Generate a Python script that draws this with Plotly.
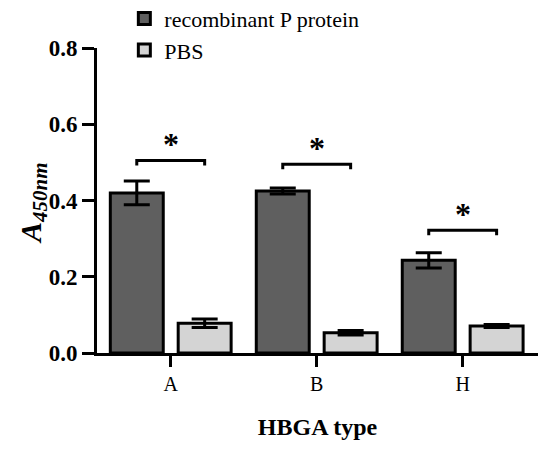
import plotly.graph_objects as go

categories = ["A", "B", "H"]
protein_vals = [0.42, 0.425, 0.243]
protein_err = [0.031, 0.008, 0.020]
pbs_vals = [0.078, 0.053, 0.071]
pbs_err = [0.011, 0.006, 0.004]
sig_heights = [0.505, 0.495, 0.322]
series_names = ["recombinant P protein", "PBS"]
y_ticks = [0.0, 0.2, 0.4, 0.6, 0.8]

FONT = "Liberation Serif"
fig = go.Figure()
fig.add_trace(go.Bar(
    x=categories, y=protein_vals, name=series_names[0],
    marker=dict(color="#5f5f5f", line=dict(color="black", width=3)),
    error_y=dict(type="data", array=protein_err, color="black", thickness=3, width=13),
))
fig.add_trace(go.Bar(
    x=categories, y=pbs_vals, name=series_names[1],
    marker=dict(color="#d4d4d4", line=dict(color="black", width=3)),
    error_y=dict(type="data", array=pbs_err, color="black", thickness=3, width=13),
))

bargap = 0.07
slot = (1 - bargap) / 2
off = slot / 2
drop = 0.013
for i, h in enumerate(sig_heights):
    x0, x1 = i - off, i + off
    fig.add_shape(type="path",
                  path=f"M {x0},{h - drop} L {x0},{h} L {x1},{h} L {x1},{h - drop}",
                  xref="x", yref="y", line=dict(color="black", width=3))
    fig.add_annotation(x=i, y=h, xref="x", yref="y", text="<b>*</b>",
                       showarrow=False, yanchor="bottom", yshift=-4,
                       font=dict(family=FONT, size=32, color="black"))

# y-axis title
fig.add_annotation(x=-0.145, y=0.492, xref="paper", yref="paper",
                   text="<b><i>A</i></b><sub><b><i>450nm</i></b></sub>",
                   textangle=-90, showarrow=False, xanchor="center", yanchor="middle",
                   font=dict(family=FONT, size=30, color="black"))

fig.update_layout(
    width=550, height=452,
    margin=dict(l=89, r=20, t=40, b=107, autoexpand=False),
    paper_bgcolor="white", plot_bgcolor="white",
    barmode="group", bargap=bargap, bargroupgap=0.22,
    font=dict(family=FONT, size=21, color="black"),
    legend=dict(xref="paper", yref="paper", x=0.062, y=1.165,
                xanchor="left", yanchor="top", bgcolor="rgba(0,0,0,0)",
                font=dict(family=FONT, size=22, color="black"),
                itemwidth=30, tracegroupgap=0),
    showlegend=True,
)
fig.update_xaxes(
    range=[-0.505, 2.516], showline=True, linecolor="black", linewidth=3,
    ticks="outside", ticklen=11, tickwidth=3, tickcolor="black",
    tickfont=dict(family=FONT, size=20, color="black"),
    showgrid=False, zeroline=False,
    title=dict(text="<b>HBGA type</b>", font=dict(family=FONT, size=24, color="black"), standoff=25),
)
fig.update_yaxes(
    range=[0, 0.8], tickvals=y_ticks, ticktext=[f"<b>{v:.1f}</b>" for v in y_ticks],
    showline=True, linecolor="black", linewidth=3,
    ticks="outside", ticklen=12, tickwidth=3, tickcolor="black",
    tickfont=dict(family=FONT, size=23, color="black"),
    showgrid=False, zeroline=False,
)
fig.write_html("out.html")
